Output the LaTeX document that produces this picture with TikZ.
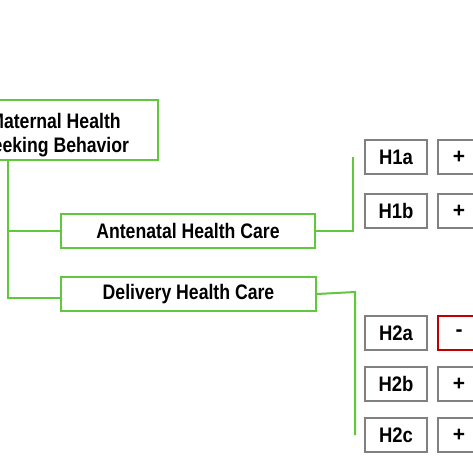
\documentclass[tikz,border=0pt]{standalone}
\usepackage{fontspec}
\setmainfont{Liberation Sans}
\definecolor{lgreen}{RGB}{96,200,60}
\definecolor{hgray}{RGB}{128,128,128}
\definecolor{hred}{RGB}{192,0,0}
\newcommand{\nar}[1]{\scalebox{0.84}[1]{#1}}
\newcommand{\narh}[1]{\scalebox{0.88}[1]{#1}}
\begin{document}
\begin{tikzpicture}[x=1pt,y=-1pt,
  gbox/.style={draw=lgreen,line width=2pt,minimum height=34pt,inner sep=0pt,
    font=\bfseries\fontsize{21}{24}\selectfont},
  gtext/.style={inner sep=0pt,align=center,font=\bfseries\fontsize{21}{24}\selectfont},
  hbox/.style={draw=hgray,line width=2pt,minimum width=62pt,minimum height=34pt,
    inner sep=0pt,font=\bfseries\fontsize{21}{24}\selectfont},
  sbox/.style={hbox,minimum width=42pt},
  conn/.style={draw=lgreen,line width=2pt}]
\useasboundingbox (0,0) rectangle (473,473);
\fill[white] (0,0) rectangle (473,473);
% main boxes
\node[gbox,minimum width=206pt,minimum height=60pt] (top) at (55,130) {};
\node[gtext] (toptext) at (55,135) {\nar{Maternal Health}\\\nar{Seeking Behavior}};
\node[gbox,minimum width=254pt] (ante) at (188,230.5) {\nar{Antenatal Health Care}};
\node[gbox,minimum width=255pt] (deli) at (188.5,294) {\nar{Delivery Health Care}};
% hypothesis boxes
\node[hbox] (h1a) at (396,157) {\narh{H1a}};
\node[hbox] (h1b) at (396,211) {\narh{H1b}};
\node[hbox] (h2a) at (396,333) {\narh{H2a}};
\node[hbox] (h2b) at (396,384) {\narh{H2b}};
\node[hbox] (h2c) at (396,435) {\narh{H2c}};
% sign boxes
\node[sbox] (s1a) at (459,157) {+};
\node[sbox] (s1b) at (459,211) {+};
\node[sbox,draw=hred] (s2a) at (459,333) {-};
\node[sbox] (s2b) at (459,384) {+};
\node[sbox] (s2c) at (459,435) {+};
% connectors
\coordinate (tap) at ([xshift=-47pt]top.south);
\draw[conn] (tap) |- (ante.west);
\draw[conn] (tap) |- ([yshift=-4pt]deli.west);
\coordinate (r1) at ([xshift=-11pt]h1a.west);
\draw[conn] (ante.east) -| (r1);
\coordinate (r2) at ([xshift=-9pt]h2c.west);
\draw[conn] (deli.east) -- ([yshift=2pt]r2 |- deli.east) -- (r2);
\end{tikzpicture}
\end{document}
